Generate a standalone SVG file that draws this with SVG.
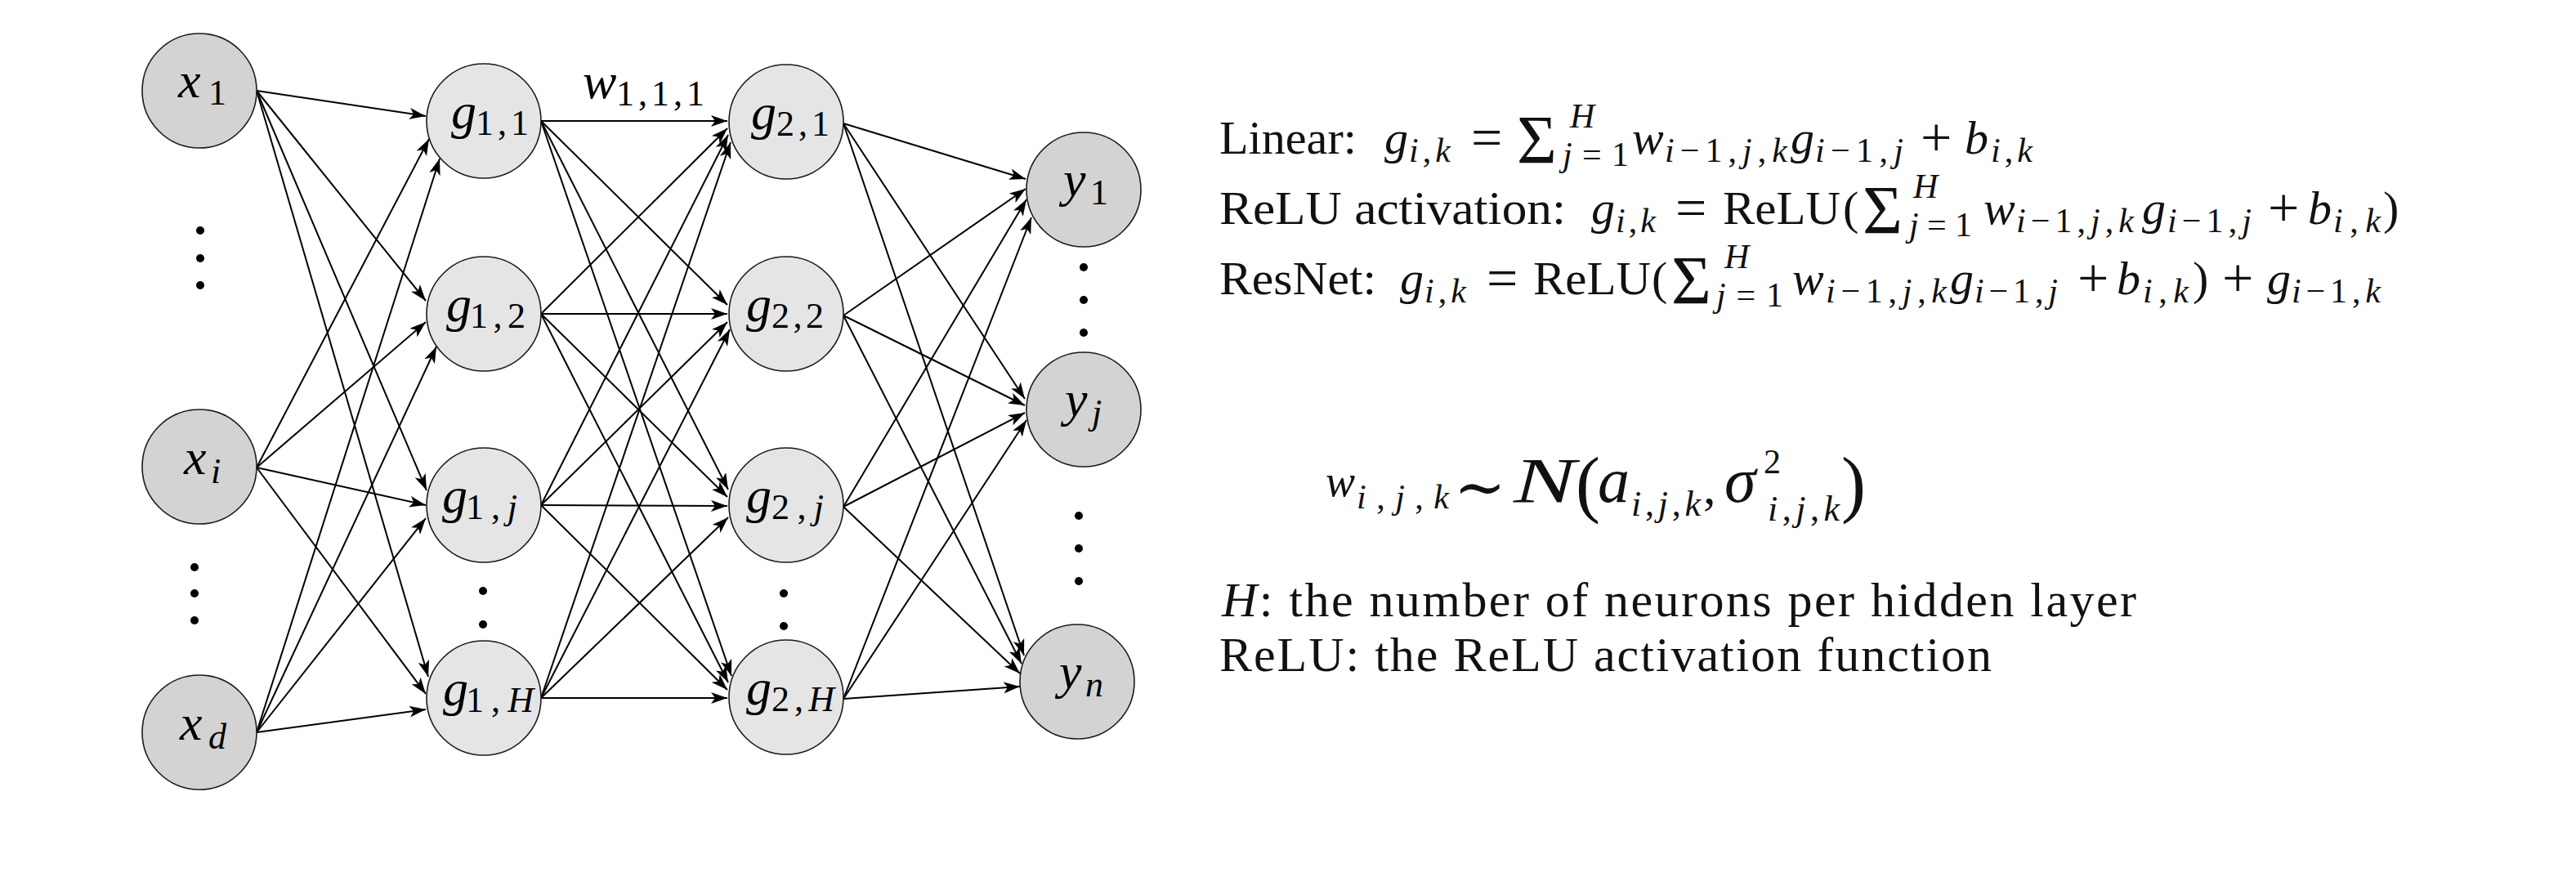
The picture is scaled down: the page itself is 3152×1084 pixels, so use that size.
<svg xmlns="http://www.w3.org/2000/svg" width="3152" height="1084" viewBox="0 0 3152 1084">
<defs>
<style>
.nin{fill:#d3d3d3;stroke:#1a1a1a;stroke-width:1.6}
.nh{fill:#e5e5e5;stroke:#1a1a1a;stroke-width:1.6}
.e{stroke:#000;stroke-width:2;fill:none;marker-end:url(#arr)}
.lb{font-family:"Liberation Serif",serif;font-style:italic;font-size:62px;fill:#000}
.ls{font-family:"Liberation Serif",serif;font-style:italic;font-size:44px;fill:#000}
.up{font-style:normal}
.dot{fill:#000}
.tx{font-family:"Liberation Serif",serif;font-size:58px;fill:#111}
.it{font-style:italic}
.s{font-size:42px}
.op{font-size:68px}
.sig{font-size:84px}
.bl{font-size:60px}
</style>
<marker id="arr" markerUnits="userSpaceOnUse" markerWidth="22" markerHeight="14" refX="20" refY="7" orient="auto">
<path d="M0,0 L20,7 L0,14 L5,7 Z" fill="#000"/>
</marker>
</defs>
<rect width="3152" height="1084" fill="#fff"/>

<g id="connectors">
<line class="e" x1="314" y1="111" x2="521" y2="142"/>
<line class="e" x1="314" y1="111" x2="521" y2="368"/>
<line class="e" x1="314" y1="111" x2="522" y2="600"/>
<line class="e" x1="314" y1="111" x2="524" y2="828"/>
<line class="e" x1="314" y1="572" x2="525" y2="170"/>
<line class="e" x1="314" y1="572" x2="521" y2="394"/>
<line class="e" x1="314" y1="572" x2="521" y2="618"/>
<line class="e" x1="314" y1="572" x2="521" y2="849"/>
<line class="e" x1="314" y1="896" x2="538" y2="194"/>
<line class="e" x1="314" y1="896" x2="534" y2="424"/>
<line class="e" x1="314" y1="896" x2="521" y2="634"/>
<line class="e" x1="314" y1="896" x2="521" y2="868"/>

<line class="e" x1="662" y1="148" x2="890" y2="148"/>
<line class="e" x1="662" y1="148" x2="890" y2="373"/>
<line class="e" x1="662" y1="148" x2="891" y2="599"/>
<line class="e" x1="662" y1="148" x2="895" y2="827"/>
<line class="e" x1="662" y1="384" x2="890" y2="157"/>
<line class="e" x1="662" y1="384" x2="890" y2="384"/>
<line class="e" x1="662" y1="384" x2="890" y2="608"/>
<line class="e" x1="662" y1="384" x2="891" y2="835"/>
<line class="e" x1="662" y1="618" x2="891" y2="165"/>
<line class="e" x1="662" y1="618" x2="890" y2="394"/>
<line class="e" x1="662" y1="618" x2="890" y2="619"/>
<line class="e" x1="662" y1="618" x2="890" y2="844"/>
<line class="e" x1="662" y1="854" x2="894" y2="174"/>
<line class="e" x1="662" y1="854" x2="893" y2="403"/>
<line class="e" x1="662" y1="854" x2="891" y2="633"/>
<line class="e" x1="662" y1="854" x2="890" y2="854"/>

<line class="e" x1="1032" y1="151" x2="1255" y2="219"/>
<line class="e" x1="1032" y1="151" x2="1254" y2="488"/>
<line class="e" x1="1032" y1="151" x2="1253" y2="802"/>
<line class="e" x1="1032" y1="386" x2="1255" y2="231"/>
<line class="e" x1="1032" y1="386" x2="1254" y2="496"/>
<line class="e" x1="1032" y1="386" x2="1250" y2="812"/>
<line class="e" x1="1032" y1="620" x2="1256" y2="244"/>
<line class="e" x1="1032" y1="620" x2="1254" y2="505"/>
<line class="e" x1="1032" y1="620" x2="1248" y2="824"/>
<line class="e" x1="1032" y1="855" x2="1262" y2="266"/>
<line class="e" x1="1032" y1="855" x2="1256" y2="514"/>
<line class="e" x1="1032" y1="855" x2="1248" y2="840"/>
</g>

<g id="x1"><circle class="nin" cx="244" cy="111" r="70"/><text class="lb" x="218" y="119">x</text><text class="ls up" x="255" y="128">1</text></g>
<g id="xi"><circle class="nin" cx="244" cy="571" r="70"/><text class="lb" x="225" y="580">x</text><text class="ls" x="258" y="591">i</text></g>
<g id="xd"><circle class="nin" cx="244" cy="896" r="70"/><text class="lb" x="220" y="905">x</text><text class="ls" x="255" y="916">d</text></g>

<g id="g11"><circle class="nh" cx="592" cy="148" r="70"/><text class="lb" x="552" y="157">g</text><text class="ls up" x="582" y="165" textLength="65">1,1</text></g>
<g id="g12"><circle class="nh" cx="592" cy="384" r="70"/><text class="lb" x="546" y="393">g</text><text class="ls up" x="575" y="401" textLength="68">1,2</text></g>
<g id="g1j"><circle class="nh" cx="592" cy="618" r="70"/><text class="lb" x="541" y="627">g</text><text class="ls" x="570" y="635" textLength="63"><tspan class="up">1,</tspan>j</text></g>
<g id="g1H"><circle class="nh" cx="592" cy="854" r="70"/><text class="lb" x="542" y="863">g</text><text class="ls" x="570" y="871" textLength="83"><tspan class="up">1,</tspan>H</text></g>

<g id="g21"><circle class="nh" cx="962" cy="149" r="70"/><text class="lb" x="919" y="158">g</text><text class="ls up" x="950" y="166" textLength="65">2,1</text></g>
<g id="g22"><circle class="nh" cx="962" cy="384" r="70"/><text class="lb" x="913" y="393">g</text><text class="ls up" x="944" y="401" textLength="64">2,2</text></g>
<g id="g2j"><circle class="nh" cx="962" cy="618" r="70"/><text class="lb" x="913" y="627">g</text><text class="ls" x="944" y="635" textLength="64"><tspan class="up">2,</tspan>j</text></g>
<g id="g2H"><circle class="nh" cx="962" cy="853" r="70"/><text class="lb" x="913" y="862">g</text><text class="ls" x="944" y="870" textLength="77"><tspan class="up">2,</tspan>H</text></g>

<g id="y1"><circle class="nin" cx="1326" cy="232" r="70"/><text class="lb" x="1301" y="240">y</text><text class="ls up" x="1334" y="250">1</text></g>
<g id="yj"><circle class="nin" cx="1326" cy="501" r="70"/><text class="lb" x="1303" y="509">y</text><text class="ls" x="1336" y="519">j</text></g>
<g id="yn"><circle class="nin" cx="1318" cy="834" r="70"/><text class="lb" x="1296" y="842">y</text><text class="ls" x="1328" y="852">n</text></g>

<g id="w111-label"><text class="lb" x="713" y="120">w</text><text class="ls up" x="754" y="129" textLength="108">1,1,1</text></g>

<g id="ellipsis">
<circle class="dot" cx="245" cy="282" r="5"/><circle class="dot" cx="245" cy="316" r="5"/><circle class="dot" cx="245" cy="349" r="5"/>
<circle class="dot" cx="238" cy="694" r="5"/><circle class="dot" cx="238" cy="726" r="5"/><circle class="dot" cx="238" cy="759" r="5"/>
<circle class="dot" cx="591" cy="723" r="5"/><circle class="dot" cx="591" cy="764" r="5"/>
<circle class="dot" cx="959" cy="726" r="5"/><circle class="dot" cx="959" cy="766" r="5"/>
<circle class="dot" cx="1326" cy="327" r="5"/><circle class="dot" cx="1326" cy="367" r="5"/><circle class="dot" cx="1326" cy="407" r="5"/>
<circle class="dot" cx="1320" cy="631" r="5"/><circle class="dot" cx="1320" cy="671" r="5"/><circle class="dot" cx="1320" cy="711" r="5"/>
</g>

<g id="formula-linear">
<text class="tx" x="1492" y="188" textLength="168" lengthAdjust="spacingAndGlyphs">Linear:</text>
<text class="tx it" x="1694" y="188">g</text>
<text class="tx s" x="1724" y="198" textLength="51"><tspan class="it">i</tspan>,<tspan class="it">k</tspan></text>
<text class="tx op" x="1800" y="191">=</text>
<text class="tx sig" x="1856" y="200">Σ</text>
<text class="tx s it" x="1921" y="156">H</text>
<text class="tx s" x="1912" y="203" textLength="81"><tspan class="it">j</tspan>=1</text>
<text class="tx it" x="1997" y="188">w</text>
<text class="tx s" x="2037" y="198" textLength="150"><tspan class="it">i</tspan>−1,<tspan class="it">j</tspan>,<tspan class="it">k</tspan></text>
<text class="tx it" x="2191" y="188">g</text>
<text class="tx s" x="2221" y="198" textLength="108"><tspan class="it">i</tspan>−1,<tspan class="it">j</tspan></text>
<text class="tx op" x="2350" y="191">+</text>
<text class="tx it" x="2404" y="188">b</text>
<text class="tx s" x="2436" y="198" textLength="51"><tspan class="it">i</tspan>,<tspan class="it">k</tspan></text>
</g>

<g id="formula-relu">
<text class="tx" x="1492" y="274" textLength="424" lengthAdjust="spacingAndGlyphs">ReLU activation:</text>
<text class="tx it" x="1947" y="274">g</text>
<text class="tx s" x="1977" y="284" textLength="49"><tspan class="it">i</tspan>,<tspan class="it">k</tspan></text>
<text class="tx op" x="2050" y="277">=</text>
<text class="tx" x="2108" y="274" textLength="144" lengthAdjust="spacingAndGlyphs">ReLU</text>
<text class="tx" x="2255" y="274">(</text>
<text class="tx sig" x="2279" y="286">Σ</text>
<text class="tx s it" x="2341" y="242">H</text>
<text class="tx s" x="2336" y="289" textLength="77"><tspan class="it">j</tspan>=1</text>
<text class="tx it" x="2427" y="274">w</text>
<text class="tx s" x="2467" y="284" textLength="144"><tspan class="it">i</tspan>−1,<tspan class="it">j</tspan>,<tspan class="it">k</tspan></text>
<text class="tx it" x="2621" y="274">g</text>
<text class="tx s" x="2652" y="284" textLength="103"><tspan class="it">i</tspan>−1,<tspan class="it">j</tspan></text>
<text class="tx op" x="2775" y="277">+</text>
<text class="tx it" x="2824" y="274">b</text>
<text class="tx s" x="2855" y="284" textLength="58"><tspan class="it">i</tspan>,<tspan class="it">k</tspan></text>
<text class="tx" x="2916" y="274">)</text>
</g>

<g id="formula-resnet">
<text class="tx" x="1492" y="360" textLength="192" lengthAdjust="spacingAndGlyphs">ResNet:</text>
<text class="tx it" x="1713" y="360">g</text>
<text class="tx s" x="1743" y="370" textLength="51"><tspan class="it">i</tspan>,<tspan class="it">k</tspan></text>
<text class="tx op" x="1819" y="363">=</text>
<text class="tx" x="1876" y="360" textLength="144" lengthAdjust="spacingAndGlyphs">ReLU</text>
<text class="tx" x="2021" y="360">(</text>
<text class="tx sig" x="2045" y="372">Σ</text>
<text class="tx s it" x="2110" y="328">H</text>
<text class="tx s" x="2100" y="375" textLength="82"><tspan class="it">j</tspan>=1</text>
<text class="tx it" x="2193" y="360">w</text>
<text class="tx s" x="2234" y="370" textLength="148"><tspan class="it">i</tspan>−1,<tspan class="it">j</tspan>,<tspan class="it">k</tspan></text>
<text class="tx it" x="2386" y="360">g</text>
<text class="tx s" x="2416" y="370" textLength="102"><tspan class="it">i</tspan>−1,<tspan class="it">j</tspan></text>
<text class="tx op" x="2542" y="363">+</text>
<text class="tx it" x="2590" y="360">b</text>
<text class="tx s" x="2622" y="370" textLength="56"><tspan class="it">i</tspan>,<tspan class="it">k</tspan></text>
<text class="tx" x="2683" y="360">)</text>
<text class="tx op" x="2719" y="363">+</text>
<text class="tx it" x="2774" y="360">g</text>
<text class="tx s" x="2804" y="370" textLength="109"><tspan class="it">i</tspan>−1,<tspan class="it">k</tspan></text>
</g>

<g id="formula-weight">
<text class="tx it" x="1622" y="607" style="font-size:54px">w</text>
<text class="tx s" x="1660" y="622" textLength="113"><tspan class="it">i</tspan>,<tspan class="it">j</tspan>,<tspan class="it">k</tspan></text>
<text x="1779" y="622" style="font-family:'DejaVu Serif',serif;font-size:76px;fill:#111">∼</text>
<text class="tx it" x="1852" y="614" style="font-size:78px" textLength="76" lengthAdjust="spacingAndGlyphs">N</text>
<text class="tx" x="1928" y="622" style="font-size:90px">(</text>
<text class="tx it" x="1955" y="614" style="font-size:78px">a</text>
<text class="tx" x="1996" y="631" style="font-size:44px" textLength="85"><tspan class="it">i</tspan>,<tspan class="it">j</tspan>,<tspan class="it">k</tspan></text>
<text class="tx" x="2084" y="616" style="font-size:62px">,</text>
<text class="tx it" x="2110" y="614" style="font-size:78px">σ</text>
<text class="tx" x="2158" y="579" style="font-size:42px">2</text>
<text class="tx" x="2163" y="637" style="font-size:44px" textLength="88"><tspan class="it">i</tspan>,<tspan class="it">j</tspan>,<tspan class="it">k</tspan></text>
<text class="tx" x="2253" y="622" style="font-size:90px">)</text>
</g>

<g id="legend">
<text class="tx bl" x="1495" y="754" textLength="1119"><tspan class="it">H</tspan>: the number of neurons per hidden layer</text>
<text class="tx bl" x="1492" y="821" textLength="945">ReLU: the ReLU activation function</text>
</g>
</svg>
